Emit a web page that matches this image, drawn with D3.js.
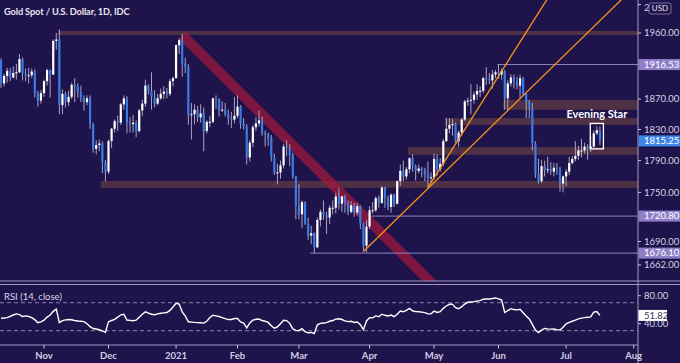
<!DOCTYPE html>
<html>
<head>
<meta charset="utf-8">
<script src="https://cdn.jsdelivr.net/npm/d3@7"></script>
<style>
  body { margin: 0; background: #1f134b; }
  svg { display: block; font-family: Lato, "Open Sans", sans-serif; }
</style>
</head>
<body>
<div id="chart"></div>
<script>
// daily candles: [day, open, high, low, close]
var oct20 = [[13,1922,1925,1885,1891],[14,1891,1904,1887,1901],[15,1901,1912,1892,1908],[16,1908,1912,1894,1899],
  [19,1899,1914,1898,1905],[20,1905,1917,1896,1906],[21,1906,1931,1905,1924],[22,1924,1926,1895,1904],
  [23,1904,1911,1894,1902],[26,1902,1912,1891,1902],[27,1902,1911,1898,1907],[28,1907,1910,1872,1878],
  [29,1878,1881,1860,1868],[30,1868,1882,1864,1878]];
var nov20 = [[2,1878,1896,1873,1894],[3,1894,1911,1888,1909],[4,1909,1910,1872,1903],[5,1903,1951,1902,1949],
  [6,1949,1960,1937,1951],[9,1951,1965,1850,1862],[10,1862,1883,1850,1877],[11,1877,1880,1859,1866],
  [12,1866,1881,1861,1873],[13,1873,1892,1870,1889],[16,1889,1898,1866,1887],[17,1887,1891,1872,1880],
  [18,1880,1888,1866,1872],[19,1872,1875,1855,1866],[20,1866,1875,1862,1871],[23,1871,1875,1831,1837],
  [24,1837,1839,1800,1805],[25,1805,1816,1798,1810],[26,1810,1817,1802,1812],[27,1812,1815,1774,1788],
  [30,1788,1791,1764,1776]];
var dec20 = [[1,1776,1817,1773,1815],[2,1815,1832,1806,1831],[3,1831,1843,1826,1841],[4,1841,1848,1828,1839],
  [7,1839,1865,1836,1863],[8,1863,1875,1856,1871],[9,1871,1874,1825,1839],[10,1839,1846,1826,1837],
  [11,1837,1849,1826,1839],[14,1839,1842,1820,1828],[15,1828,1857,1826,1855],[16,1855,1869,1848,1864],
  [17,1864,1896,1860,1888],[18,1888,1890,1876,1881],[21,1881,1906,1856,1873],[22,1873,1882,1859,1864],
  [23,1864,1877,1862,1871],[24,1871,1884,1869,1877],[28,1877,1887,1870,1880],[29,1880,1885,1871,1877],
  [30,1877,1897,1874,1894],[31,1894,1900,1887,1898]];
var jan21 = [[4,1898,1944,1898,1943],[5,1943,1952,1931,1950],[6,1950,1959,1900,1918],[7,1918,1926,1905,1913],
  [8,1913,1917,1836,1849],[11,1849,1865,1817,1850],[12,1850,1863,1837,1856],[13,1856,1861,1840,1846],
  [14,1846,1863,1839,1851],[15,1851,1859,1802,1828],[18,1828,1842,1825,1840],[19,1840,1848,1833,1840],
  [20,1840,1872,1838,1871],[21,1871,1875,1857,1870],[22,1870,1871,1847,1855],[25,1855,1867,1853,1856],
  [26,1856,1865,1847,1850],[27,1850,1856,1836,1844],[28,1844,1853,1832,1843],[29,1843,1873,1838,1848]];
var feb21 = [[1,1848,1875,1845,1860],[2,1860,1862,1831,1837],[3,1837,1845,1830,1834],[4,1834,1837,1785,1794],
  [5,1794,1816,1789,1813],[8,1813,1836,1807,1833],[9,1833,1846,1828,1838],[10,1838,1855,1834,1842],
  [11,1842,1847,1822,1825],[12,1825,1829,1808,1824],[15,1824,1826,1809,1819],[16,1819,1823,1789,1794],
  [17,1794,1799,1772,1775],[18,1775,1786,1760,1775],[19,1775,1790,1767,1784],[22,1784,1811,1780,1808],
  [23,1808,1816,1796,1806],[24,1806,1811,1783,1797],[25,1797,1800,1767,1770],[26,1770,1771,1717,1734]];
var mar21 = [[1,1734,1760,1717,1723],[2,1723,1740,1706,1738],[3,1738,1739,1710,1711],[4,1711,1719,1692,1697],
  [5,1697,1709,1687,1700],[8,1700,1701,1676,1683],[9,1683,1719,1682,1716],[10,1716,1729,1708,1726],
  [11,1726,1740,1716,1722],[12,1722,1726,1699,1719],[15,1719,1734,1711,1731],[16,1731,1740,1723,1731],
  [17,1731,1749,1724,1745],[18,1745,1755,1729,1736],[19,1736,1746,1726,1745],[22,1745,1747,1725,1738],
  [23,1738,1740,1722,1726],[24,1726,1739,1724,1734],[25,1734,1737,1720,1725],[26,1725,1737,1722,1733],
  [29,1733,1734,1705,1712],[30,1712,1713,1678,1685],[31,1685,1716,1677,1708]];
var apr21 = [[1,1708,1733,1705,1728],[5,1728,1738,1724,1728],[6,1728,1745,1726,1743],[7,1743,1746,1731,1737],
  [8,1737,1758,1736,1756],[9,1756,1757,1731,1744],[12,1744,1746,1728,1732],[13,1732,1749,1725,1747],
  [14,1747,1748,1732,1736],[15,1736,1765,1735,1764],[16,1764,1785,1758,1777],[19,1777,1790,1764,1770],
  [20,1770,1782,1766,1779],[21,1779,1794,1774,1793],[22,1793,1798,1776,1783],[23,1783,1785,1765,1777],
  [26,1777,1785,1774,1780],[27,1780,1782,1769,1778],[28,1778,1781,1764,1773],[29,1773,1789,1756,1768],
  [30,1768,1775,1763,1769]];
var may21 = [[3,1769,1799,1766,1792],[4,1792,1798,1771,1779],[5,1779,1793,1776,1786],[6,1786,1818,1783,1815],
  [7,1815,1845,1814,1831],[10,1831,1845,1825,1836],[11,1836,1844,1822,1837],[12,1837,1839,1813,1815],
  [13,1815,1829,1808,1826],[14,1826,1845,1822,1843],[17,1843,1869,1841,1867],[18,1867,1872,1861,1868],
  [19,1868,1890,1850,1869],[20,1869,1880,1864,1876],[21,1876,1890,1869,1881],[24,1881,1887,1873,1881],
  [25,1881,1900,1878,1898],[26,1898,1913,1889,1897],[27,1897,1905,1890,1895],[28,1895,1909,1884,1903],
  [31,1903,1909,1898,1906]];
var jun21 = [[1,1906,1917,1897,1903],[2,1903,1911,1896,1908],[3,1908,1909,1856,1871],[4,1871,1895,1854,1891],
  [7,1891,1903,1887,1899],[8,1899,1903,1884,1893],[9,1893,1900,1883,1888],[10,1888,1903,1871,1898],
  [11,1898,1900,1874,1877],[14,1877,1878,1845,1866],[15,1866,1869,1845,1859],[16,1859,1865,1803,1812],
  [17,1812,1815,1768,1773],[18,1773,1792,1761,1764],[21,1764,1791,1762,1783],[22,1783,1790,1770,1778],
  [23,1778,1795,1774,1779],[24,1779,1788,1772,1776],[25,1776,1787,1770,1781],[28,1781,1787,1772,1780],
  [29,1780,1782,1751,1761],[30,1761,1771,1750,1770]];
var jul21 = [[1,1770,1779,1758,1776],[2,1776,1795,1772,1787],[5,1787,1796,1785,1792],[6,1792,1815,1789,1796],
  [7,1796,1809,1791,1803],[8,1803,1818,1794,1803],[9,1803,1813,1799,1808],[12,1808,1811,1791,1806],
  [13,1806,1822,1801,1808],[14,1808,1829,1806,1825],[15,1825,1834,1823,1829],[16,1829,1834,1810,1815.25]];

// RSI(14, close), one value per candle, oct 13 .. jul 16
var rsiValues = [
  47.8,48.2,48.7,50.5,52.4,54,53,50.3,51.1,50.3,48.6,45.8,41.5,42.5,
  45,49.5,52.4,57.7,60.7,41.5,44.4,45.5,46,45.6,44.6,43.8,43.4,43,40,35.8,33.1,32.5,31.3,29.6,27.7,
  42.9,44.6,46.3,49.3,52.7,53.5,45.3,44.8,44.2,45.2,49.2,53.5,56.9,55.2,53.5,52.9,54,55,55.5,56,59,63.8,
  69,68,57,51,42.7,42.3,41.9,41.6,41.4,40.8,43.5,48.8,52,51.1,50.3,48.8,47.2,45.9,46.1,47.4,
  47.4,42.5,41,34,41,45,46.3,46.7,44.5,43.5,41.8,37,33.5,35.5,40,45,44.5,40.5,32.5,30.5,
  30,33,28.5,27,27.5,26,38.5,40.5,41,41.5,43.5,44.5,46.5,47,46,44,43,43.5,41.8,42.5,38.5,31.5,44,
  48.5,48.3,51.1,50,53.6,52,51,52.4,50,53.5,58.2,57,59,61.9,58.5,57.2,57,56.5,55.9,54.1,54.3,
  58,56,57.2,61.9,65.3,67.7,68,62.9,61.4,64.3,68.1,70.6,71.1,71.5,72.2,72.9,75,75.3,75.3,76,76.8,
  75.5,73.8,56,58.6,61.5,60.2,59.7,60.5,55.6,50.9,46.7,39,30.8,27.3,31,33.2,32.6,32.2,32.4,31.5,31,35,
  39.8,42,43.5,45,46.8,48,48.6,49.3,49.8,56.5,57.4,51.82];

var priceTicks = [2000, 1960, 1870, 1830, 1790, 1750, 1690, 1662];
var rsiTicks = [80, 40];
var monthTicks = [["2020-11-02","Nov"],["2020-12-01","Dec"],["2021-01-04","2021"],["2021-02-01","Feb"],
  ["2021-03-01","Mar"],["2021-04-01","Apr"],["2021-05-03","May"],["2021-06-01","Jun"],["2021-07-01","Jul"],["2021-08-02","Aug"]];

// support / resistance zones: [start date, low, high]
var zones = [["2020-11-09",1957.2,1962.8],["2021-06-03",1855.9,1869.1],["2021-05-07",1836,1845],
  ["2021-04-21",1797.4,1807.3],["2020-11-27",1755.7,1764.3]];
// pivot level lines: [start date, price]
var levels = [["2021-06-01",1916.53],["2021-04-05",1720.80],["2021-03-05",1676.10]];
var downTrend = [["2021-01-06",1957],["2021-04-29",1645]];
var upTrendA = [["2021-04-29",1756],["2021-06-01",1901]];
var upTrendB = [["2021-03-30",1678],["2021-06-01",1843]];
var eveningStar = {from:"2021-07-14", to:"2021-07-16", lo:1805, hi:1838};
var lastPrice = 1815.25;

var W = 680, H = 363, axisX = 638, mainBottom = 281;

var candles = [];
[["2020-10",oct20],["2020-11",nov20],["2020-12",dec20],["2021-01",jan21],["2021-02",feb21],
 ["2021-03",mar21],["2021-04",apr21],["2021-05",may21],["2021-06",jun21],["2021-07",jul21]].forEach(function(m){
  m[1].forEach(function(r){
    candles.push({date: m[0] + "-" + (r[0] < 10 ? "0" : "") + r[0], o:r[1], h:r[2], l:r[3], c:r[4]});
  });
});
candles.forEach(function(d, i){ d.rsi = rsiValues[i]; d.k = i; });

var parse = d3.timeParse("%Y-%m-%d");
var idxMap = {};
candles.forEach(function(d){ idxMap[d.date] = d.k; });
function idx(s){
  if (idxMap[s] !== undefined) return idxMap[s];
  // future dates: count weekdays after the last candle
  var t = parse(candles[candles.length-1].date), end = parse(s), k = candles.length - 1;
  while (t < end) { t = d3.timeDay.offset(t, 1); if (t.getDay() > 0 && t.getDay() < 6) k++; }
  return k;
}

var x = d3.scaleLinear().domain([-0.33, 207.4]).range([0, axisX]);
var y = d3.scaleLog().domain([2006.5, 1643.2]).range([0, mainBottom]);
var yr = d3.scaleLinear().domain([30, 70]).range([330.7, 302.7]);

var svg = d3.select("#chart").append("svg").attr("width", W).attr("height", H);
svg.append("rect").attr("width", W).attr("height", H).attr("fill", "#1f134b");

svg.append("clipPath").attr("id", "mainClip").append("rect")
  .attr("x", 0).attr("y", 0).attr("width", axisX).attr("height", mainBottom);
svg.append("clipPath").attr("id", "rsiClip").append("rect")
  .attr("x", 0).attr("y", 285).attr("width", axisX).attr("height", 60);
svg.append("clipPath").attr("id", "topTickClip").append("rect")
  .attr("x", axisX).attr("y", 0).attr("width", 11).attr("height", 20);

var main = svg.append("g").attr("clip-path", "url(#mainClip)");

// zones
main.selectAll("rect.zone").data(zones).enter().append("rect")
  .attr("class", "zone")
  .attr("x", function(d){ return x(idx(d[0])) - 1.5; })
  .attr("y", function(d){ return y(d[2]); })
  .attr("width", function(d){ return axisX - x(idx(d[0])) + 1.5; })
  .attr("height", function(d){ return y(d[1]) - y(d[2]); })
  .attr("fill", "#4f3146");

// falling resistance band
function extend(p, x2){
  var x0 = x(idx(p[0][0])), y0 = y(p[0][1]), x1 = x(idx(p[1][0])), y1 = y(p[1][1]);
  var s = (y1 - y0) / (x1 - x0);
  return [[x0, y0], [x2, y0 + s * (x2 - x0)]];
}
main.append("path")
  .attr("d", d3.line()(extend(downTrend, 470)))
  .attr("stroke", "#a2193a").attr("stroke-opacity", 0.72)
  .attr("stroke-width", 10).attr("fill", "none");

// level lines
main.selectAll("line.level").data(levels).enter().append("line")
  .attr("x1", function(d){ return x(idx(d[0])) - 1; })
  .attr("x2", axisX)
  .attr("y1", function(d){ return y(d[1]); })
  .attr("y2", function(d){ return y(d[1]); })
  .attr("stroke", "#8e83c9").attr("stroke-width", 1);

// candles
var cg = main.selectAll("g.candle").data(candles).enter().append("g");
cg.append("line")
  .attr("x1", function(d){ return x(d.k); }).attr("x2", function(d){ return x(d.k); })
  .attr("y1", function(d){ return y(d.h); }).attr("y2", function(d){ return y(d.l); })
  .attr("stroke", "#a7a3c4").attr("stroke-width", 1);
cg.append("rect")
  .attr("x", function(d){ return x(d.k) - 1.1; })
  .attr("width", 2.2)
  .attr("y", function(d){ return y(Math.max(d.o, d.c)); })
  .attr("height", function(d){ return Math.max(1, y(Math.min(d.o, d.c)) - y(Math.max(d.o, d.c))); })
  .attr("fill", function(d){ return d.c >= d.o ? "#ffffff" : "#3a7be3"; });

// rising trend lines
[upTrendA, upTrendB].forEach(function(t){
  main.append("path")
    .attr("d", d3.line()(extend(t, axisX)))
    .attr("stroke", "#f7931e").attr("stroke-width", 1.3).attr("fill", "none");
});

// evening star box
var ex0 = x(idx(eveningStar.from)) - 3.5, ex1 = x(idx(eveningStar.to)) + 3.5;
main.append("rect")
  .attr("x", ex0).attr("y", y(eveningStar.hi))
  .attr("width", ex1 - ex0).attr("height", y(eveningStar.lo) - y(eveningStar.hi))
  .attr("fill", "none").attr("stroke", "#ffffff").attr("stroke-width", 1.3);
main.append("text")
  .attr("x", (ex0 + ex1) / 2).attr("y", y(eveningStar.hi) - 5)
  .attr("text-anchor", "middle").attr("fill", "#ffffff")
  .attr("font-size", "11px").attr("font-weight", "bold")
  .text("Evening Star");

// title
svg.append("text").attr("x", 4).attr("y", 14.5)
  .attr("fill", "#e8e6f2").attr("font-size", "9.2px").attr("font-weight", "bold")
  .attr("letter-spacing", "-0.1px")
  .text("Gold Spot / U.S. Dollar, 1D, IDC");

// panel separators
svg.append("line").attr("x1", 0).attr("x2", W).attr("y1", 281).attr("y2", 281)
  .attr("stroke", "#9d98c2").attr("stroke-width", 1);
svg.append("line").attr("x1", 0).attr("x2", W).attr("y1", 284.5).attr("y2", 284.5)
  .attr("stroke", "#9d98c2").attr("stroke-width", 1);
svg.append("line").attr("x1", 0).attr("x2", axisX).attr("y1", 345).attr("y2", 345)
  .attr("stroke", "#9d98c2").attr("stroke-width", 1);

// RSI panel
var rg = svg.append("g");
[70, 30].forEach(function(v){
  rg.append("line").attr("x1", 0).attr("x2", axisX).attr("y1", yr(v)).attr("y2", yr(v))
    .attr("stroke", "#8a86ab").attr("stroke-width", 1).attr("stroke-dasharray", "4,3");
});
rg.append("path").datum(candles)
  .attr("clip-path", "url(#rsiClip)")
  .attr("d", d3.line().x(function(d){ return x(d.k); }).y(function(d){ return yr(d.rsi); }))
  .attr("fill", "none").attr("stroke", "#ffffff").attr("stroke-width", 1.4);
rg.append("text").attr("x", 4).attr("y", 299.5)
  .attr("fill", "#d8d6e6").attr("font-size", "9.5px").text("RSI (14, close)");

// right axis
svg.append("line").attr("x1", axisX).attr("x2", axisX).attr("y1", 0).attr("y2", H)
  .attr("stroke", "#a29dc4").attr("stroke-width", 1);

var yt = svg.append("g");
priceTicks.forEach(function(v){
  var top = v === 2000;
  yt.append("line").attr("x1", axisX).attr("x2", axisX + 3).attr("y1", y(v)).attr("y2", y(v))
    .attr("stroke", "#c9c6dc");
  yt.append("text").attr("x", 644).attr("y", Math.max(y(v), 7.5)).attr("dy", "0.35em")
    .attr("clip-path", top ? "url(#topTickClip)" : null)
    .attr("fill", "#d4d2e4").attr("font-size", "9.5px").text(d3.format(".2f")(v));
});
rsiTicks.forEach(function(v){
  yt.append("line").attr("x1", axisX).attr("x2", axisX + 3).attr("y1", yr(v)).attr("y2", yr(v))
    .attr("stroke", "#c9c6dc");
  yt.append("text").attr("x", 644).attr("y", yr(v)).attr("dy", "0.35em")
    .attr("fill", "#d4d2e4").attr("font-size", "9.5px").text(d3.format(".2f")(v));
});

// price flags
function flag(v, yy, bg, fg, x1){
  var g = svg.append("g");
  g.append("rect").attr("x", axisX + 0.5).attr("y", yy - 5.5).attr("width", (x1 || W) - axisX - 0.5).attr("height", 11)
    .attr("fill", bg);
  g.append("text").attr("x", 644).attr("y", yy).attr("dy", "0.35em")
    .attr("fill", fg).attr("font-size", "9.5px").text(d3.format(".2f")(v));
}
levels.forEach(function(d){ flag(d[1], y(d[1]), "#8f7fc9", "#ffffff"); });
flag(lastPrice, y(lastPrice), "#3d85e6", "#ffffff");
flag(rsiValues[rsiValues.length - 1], yr(rsiValues[rsiValues.length - 1]), "#ffffff", "#3a3550", 667);

// currency badge
svg.append("rect").attr("x", 649).attr("y", 3).attr("width", 22).attr("height", 11).attr("rx", 2)
  .attr("fill", "#1f134b").attr("stroke", "#8f8bb0").attr("stroke-width", 0.8);
svg.append("text").attr("x", 660).attr("y", 8.5).attr("dy", "0.35em").attr("text-anchor", "middle")
  .attr("fill", "#e6e4f0").attr("font-size", "8px").text("USD");

// month axis
var xt = svg.append("g");
monthTicks.forEach(function(m){
  var px = x(idx(m[0]));
  xt.append("line").attr("x1", px).attr("x2", px).attr("y1", 345).attr("y2", 348.5).attr("stroke", "#c9c6dc");
  xt.append("text").attr("x", px).attr("y", 358.5).attr("text-anchor", "middle")
    .attr("fill", "#d0cde2").attr("font-size", "9.5px").attr("font-weight", "bold").text(m[1]);
});
</script>
</body>
</html>
